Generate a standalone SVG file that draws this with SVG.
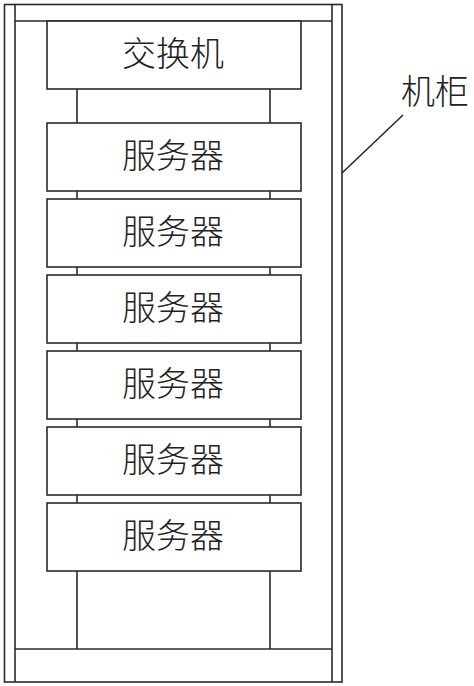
<svg xmlns="http://www.w3.org/2000/svg" width="474" height="686" viewBox="0 0 474 686">
<style>
.ln{stroke:#2a2a2a;stroke-width:1.6;fill:none}
.box{stroke:#2a2a2a;stroke-width:1.6;fill:#fff}
.t{font-family:"Liberation Serif","Noto Sans CJK SC",serif;font-size:34px;font-weight:300;fill:#222;text-anchor:middle;dominant-baseline:central}
</style>
<rect width="474" height="686" fill="#fff"/>
<g id="cabinet">
<rect class="ln" x="4.5" y="4.5" width="337.5" height="677.5"/>
<line class="ln" x1="15" y1="4.5" x2="15" y2="682"/>
<line class="ln" x1="332" y1="4.5" x2="332" y2="682"/>
<line class="ln" x1="15" y1="21" x2="332" y2="21"/>
<line class="ln" x1="15" y1="649" x2="332" y2="649"/>
<line class="ln" x1="77" y1="89" x2="77" y2="649"/>
<line class="ln" x1="270" y1="89" x2="270" y2="649"/>
</g>
<g id="switch">
<rect class="box" x="47" y="21" width="254" height="68"/>
<text class="t" x="173" y="54">交换机</text>
</g>
<g id="server1"><rect class="box" x="47" y="123" width="254" height="68"/><text class="t" x="173" y="156">服务器</text></g>
<g id="server2"><rect class="box" x="47" y="199" width="254" height="68"/><text class="t" x="173" y="232">服务器</text></g>
<g id="server3"><rect class="box" x="47" y="275" width="254" height="68"/><text class="t" x="173" y="308">服务器</text></g>
<g id="server4"><rect class="box" x="47" y="351" width="254" height="68"/><text class="t" x="173" y="384">服务器</text></g>
<g id="server5"><rect class="box" x="47" y="427" width="254" height="68"/><text class="t" x="173" y="460">服务器</text></g>
<g id="server6"><rect class="box" x="47" y="503" width="254" height="68"/><text class="t" x="173" y="536">服务器</text></g>
<g id="connectors">
<line class="ln" x1="342" y1="173" x2="403" y2="115"/>
</g>
<g id="label">
<text class="t" x="435" y="92">机柜</text>
</g>
</svg>
